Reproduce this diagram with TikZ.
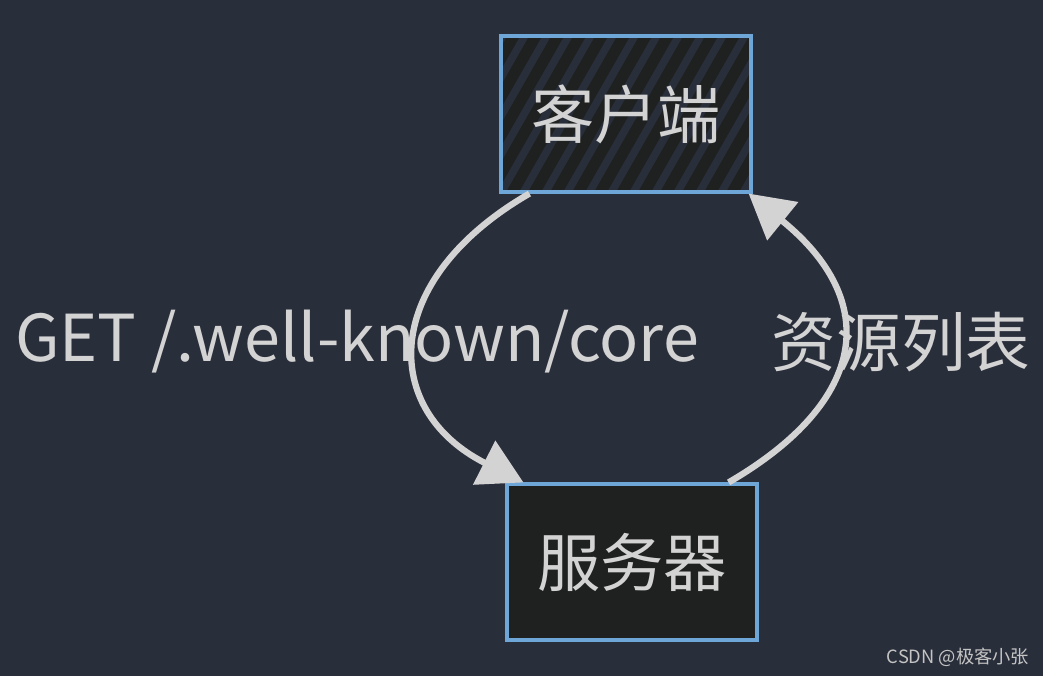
\documentclass[tikz,border=0pt]{standalone}
\usepackage{fontspec}
\usepackage{xcolor}
\usetikzlibrary{arrows.meta, positioning}
\setmainfont{Noto Sans CJK SC}
\definecolor{bg}{HTML}{292E3B}
\definecolor{boxline}{HTML}{6FA6D8}
\definecolor{boxfill}{HTML}{1F2121}
\definecolor{ink}{HTML}{D3D3D3}
\definecolor{mark}{HTML}{C4C4C4}

\begin{document}
\begin{tikzpicture}[x=0.025cm, y=-0.025cm,
  box/.style={draw=boxline, line width=2.2pt, minimum width=6.25cm, minimum height=3.9cm, inner sep=0pt, text=ink, font=\fontsize{45}{50}\selectfont},
  flow/.style={draw=ink, line width=4.5pt, -{Triangle[length=1.1cm, width=1.2cm]}},
  lbl/.style={text=ink, font=\fontsize{46}{52}\selectfont},
  hatch/.style={draw=boxfill, line width=8pt}]
  \fill[bg] (0,0) rectangle (1043,676);
  \useasboundingbox (0,0) rectangle (1043,676);

  % hatched fill of the client box
  \begin{scope}
    \clip (500,36) rectangle (752,192);
    \foreach \i in {-6,...,16}
      \draw[hatch] (420+\i*22,200) -- ++(100,-175);
  \end{scope}

  \node[box] (client) at (626,114) {客户端};
  \node[box, fill=boxfill] (server) at (632,562) {服务器};

  \draw[flow] ([xshift=0.75cm]client.south west) .. controls (380,280) and (380,410) .. ([xshift=0.45cm]server.north west);
  \draw[flow] ([xshift=-0.75cm]server.north east) .. controls (870,400) and (880,300) .. ([xshift=-0.1cm]client.south east);

  \node[lbl] (get) at (357,342) {GET /.well-known/core};
  \node[lbl] (list) at (901,342) {资源列表};
  \node[text=mark, font=\fontsize{13}{15}\selectfont] (wm) at (958,657) {CSDN @极客小张};
\end{tikzpicture}
\end{document}
